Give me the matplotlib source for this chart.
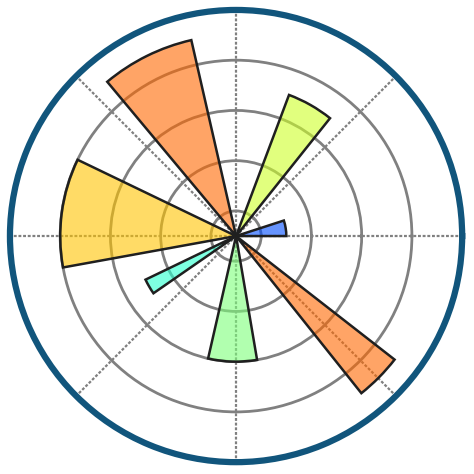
import numpy as np
import matplotlib
matplotlib.use("Agg")
import matplotlib.pyplot as plt
from matplotlib import cm

MPL_BLUE = "#11557c"

# bar data
theta_deg = [0.0, 51.43, 102.86, 154.29, 205.71, 257.14, 308.57]
radii = [2, 6, 8, 7, 4, 5, 8]
width_frac = [0.4, 0.4, 0.6, 0.8, 0.2, 0.5, 0.3]
rgrid = [1, 3, 5, 7]
spokes_deg = [0, 45, 90, 135, 180, 225, 270, 315]
rmax = 9

#%%
def make_fig():
    fig = plt.figure(figsize=(4.74, 4.74), dpi=100)
    with plt.rc_context({"axes.edgecolor": MPL_BLUE, "axes.linewidth": 4.5}):
        ax = fig.add_axes((0.021, 0.025, 0.954, 0.954), projection="polar")
    ax.set_axisbelow(True)
    theta = np.deg2rad(theta_deg)
    width = np.pi / 4 * np.array(width_frac)
    bars = ax.bar(theta, radii, width=width, bottom=0.0, align="edge",
                  edgecolor="0.12", lw=1.8)
    for r, bar in zip(radii, bars):
        # jet colour, translucent so the grid shows through
        bar.set_facecolor((*cm.jet(r / 10.)[:3], 0.6))

    ax.tick_params(labelbottom=False, labeltop=False,
                   labelleft=False, labelright=False, length=0)
    ax.set_xticks(np.deg2rad(spokes_deg))
    ax.set_yticks(rgrid)
    ax.xaxis.grid(True, color="0.5", lw=1.6, linestyle=(0, (1.3, 0.8)))
    ax.yaxis.grid(True, color="0.5", lw=2.0, linestyle="-")
    ax.set_rlim(0, rmax)
    fig.savefig("out.png", dpi=100)

if __name__ == "__main__":
    make_fig()
